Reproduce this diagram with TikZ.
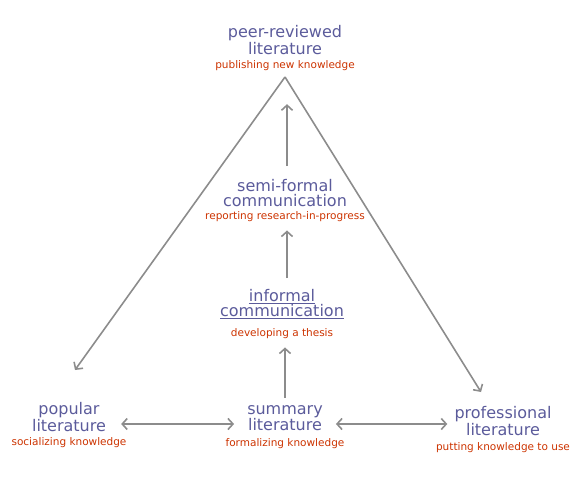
\documentclass[tikz,border=0pt]{standalone}
\usepackage{fontspec}
\setmainfont{DejaVu Sans}
\usetikzlibrary{arrows.meta, positioning}
\definecolor{titleblue}{HTML}{5B5B9B}
\definecolor{subred}{HTML}{CC3300}
\definecolor{pencil}{HTML}{8C8C8C}
\tikzset{title/.style={text=titleblue,align=center,inner sep=1pt,
                       font=\fontsize{16}{15}\selectfont},
         sub/.style={text=subred,inner sep=1pt,
                     font=\fontsize{10.5}{12}\selectfont},
         barb/.tip={Straight Barb[length=5pt,width=11pt,line width=1.6pt]},
         link/.style={draw=pencil,line width=1.6pt,-barb},
         twoway/.style={link,barb-barb}}

\begin{document}
\begin{tikzpicture}[x=1pt,y=-1pt,node distance=4pt]
\useasboundingbox (0,0) rectangle (584,484);
% top of the triangle
\node[title] (peer) at (285,40) {peer-reviewed\\literature};
\node[sub, below=of peer] (peersub) {publishing new knowledge};
% middle column
\node[title] (semi) at (285,193) {semi-formal\\communication};
\node[sub, below=2pt of semi] (semisub) {reporting research-in-progress};
\node[title] (informal) at (282,304) {\underline{informal}\\\underline{communication}};
\node[sub, below=7pt of informal] (informalsub) {developing a thesis};
% bottom row
\node[title] (popular) at (69,417) {popular\\literature};
\node[sub, below=of popular] (popularsub) {socializing knowledge};
\node[title] (summary) at (285,418) {summary\\literature};
\node[sub, below=5pt of summary] (summarysub) {formalizing knowledge};
\node[title] (professional) at (503,421) {professional\\literature};
\node[sub, below=5pt of professional] (professionalsub) {putting knowledge to use};
% sides of the triangle
\coordinate (apex) at (285,77);
\coordinate (poptip) at (75,370);
\coordinate (protip) at (481,392);
\draw[link] (apex) -- (poptip);
\draw[link] (apex) -- (protip);
% upward arrows
\draw[link, shorten <=12pt, shorten >=32pt] ([xshift=2pt]semi.north) -- ([xshift=2pt]peersub.south);
\draw[link, shorten <=10pt, shorten >=8pt] ([xshift=5pt]informal.north) -- ([xshift=2pt]semisub.south);
\draw[link, shorten <=6pt, shorten >=8pt] (summary.north) -- (summary.north |- informalsub.south);
% sideways arrows
\draw[twoway, shorten <=14pt, shorten >=12pt] ([yshift=-7pt]popular.east) -- ([yshift=-6pt]summary.west);
\draw[twoway, shorten <=12pt, shorten >=6pt] ([yshift=-6pt]summary.east) -- ([yshift=-3pt]professional.west);
\end{tikzpicture}
\end{document}
